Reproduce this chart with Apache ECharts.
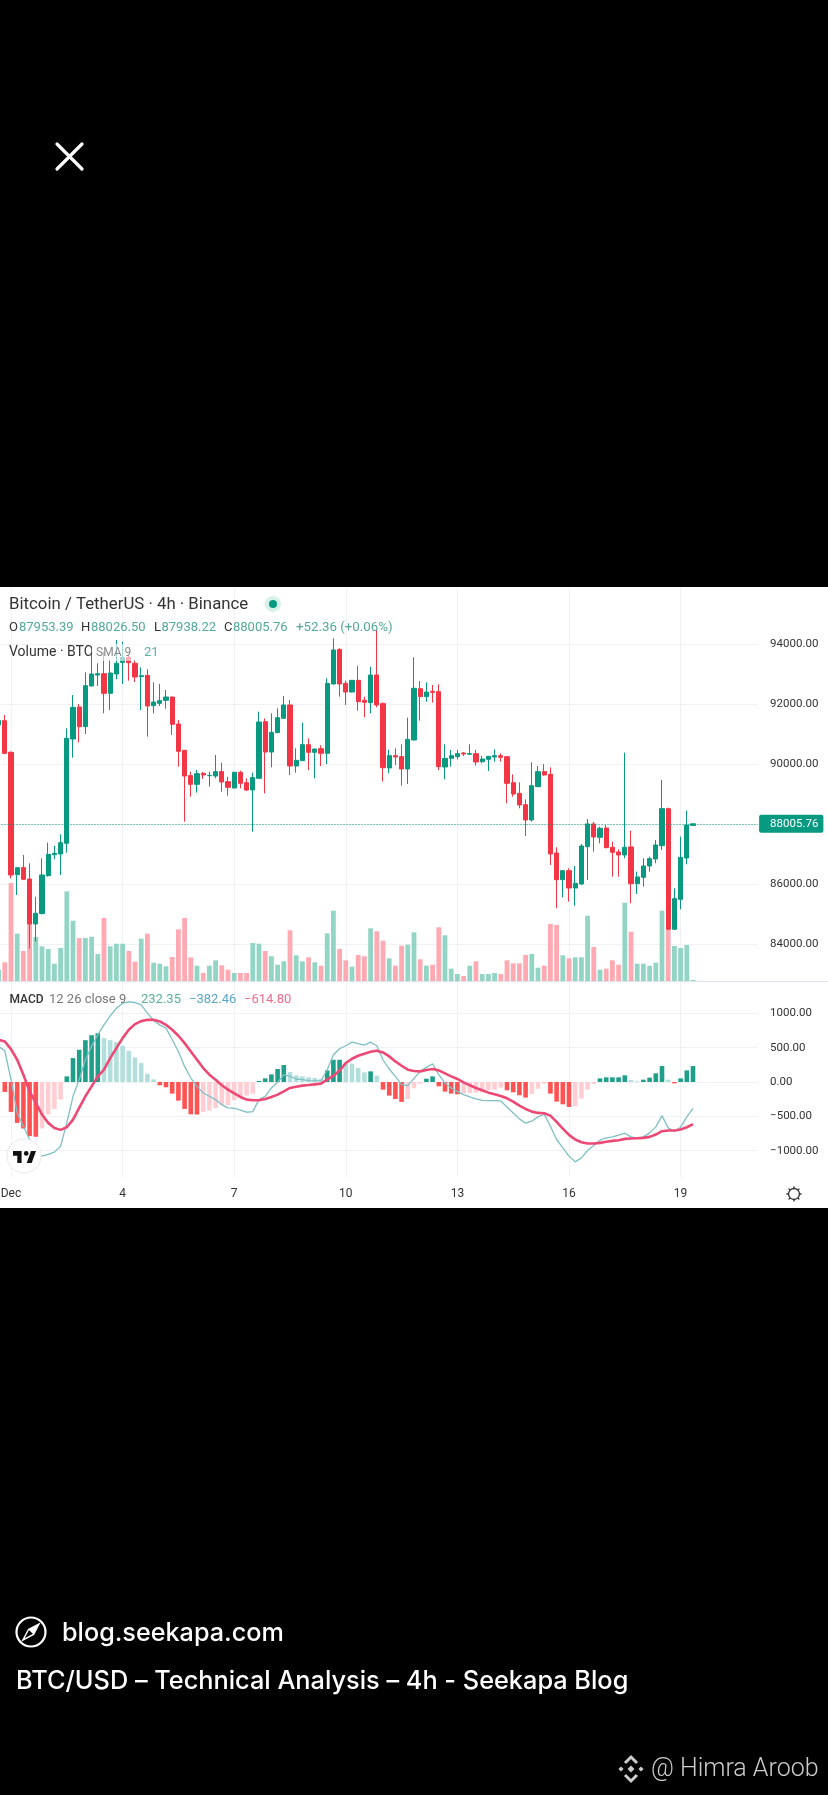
<!DOCTYPE html>
<html><head><meta charset="utf-8">
<style>html,body{margin:0;padding:0;background:#000;overflow:hidden}#c{width:828px;height:1795px}</style>
<script src="https://cdn.jsdelivr.net/npm/echarts@6/dist/echarts.min.js"></script>
</head><body><div id="c"></div>
<script>
// bars run every 4h; first bar is Nov 30 16:00
const opens=[91300,91445,90389,86312,86545,86167,84668,85012,86278,86978,87000,87356,90833,91900,91245,92600,92967,93011,92356,93000,93389,93556,93356,92911,92955,91945,92022,92122,92233,91333,90456,89611,89322,89689,89611,89600,89745,89411,89200,89722,89378,89134,89522,91411,90400,91045,91522,91967,89933,90111,90645,90389,90511,90356,92667,93822,92689,92400,92789,92122,92045,92967,92011,89867,90278,90245,89834,90800,92511,92245,92422,92411,89900,90189,90245,90367,90323,90345,90078,90156,90234,90278,90245,89378,89023,88645,88134,89245,89745,89656,87034,86145,86445,85867,86001,87245,88001,87556,87867,87223,87067,86967,87234,86012,86223,86601,86834,87279,88512,84490,85490,86867,87953.39];
const closes=[91450,90356,86300,86545,86156,84668,85023,86300,86989,87023,87378,90856,91889,91245,92611,93000,93011,92356,93033,93356,93556,93378,92900,92944,91933,92067,92111,92233,91322,90422,89600,89322,89678,89634,89622,89745,89400,89222,89722,89356,89134,89545,91400,90400,91056,91545,91967,89933,90122,90645,90389,90500,90356,92689,93800,92667,92400,92789,92078,92056,92967,91967,89878,90278,90234,89834,90822,92522,92245,92400,92389,89911,90189,90278,90345,90334,90345,90067,90167,90256,90278,90223,89356,89000,88634,88134,89278,89745,89634,87001,86145,86445,85867,86023,87267,88001,87567,87856,87212,87056,86967,87223,86012,86234,86601,86845,87301,88512,84490,85512,86890,87967,88005.76];
const lows=[91200,90330,86190,85634,86130,83856,84079,84990,86245,86823,86300,87045,90211,90722,91000,92590,92600,91689,91800,92822,92667,92778,92733,91800,90911,91689,91933,91844,90967,89911,88078,88911,89045,89500,89245,89522,89078,88945,89189,89189,89100,87745,89511,89022,89889,91030,91510,89634,89711,90100,89800,89522,89934,90000,92650,92245,91967,92390,91778,91556,91689,91889,89411,89689,89967,89278,89334,90790,91445,92078,92045,89800,89489,89911,90156,90267,90312,89945,90022,89767,90078,90078,88689,88911,88523,87600,88078,89230,89611,86634,85190,85556,85412,85279,85968,86134,87078,87356,87190,86245,86245,86856,85357,85668,85912,86412,86690,87134,84468,84470,85157,86656,87938.22];
const highs=[91500,91633,90420,86560,86967,86690,85578,86856,87378,87267,87656,91189,92300,92000,93056,93856,93356,93744,93467,94133,94078,93633,93467,93222,93155,92722,92667,92467,92250,91467,90467,89745,89800,89734,89745,90300,90045,89578,89745,89778,89522,89711,91745,91522,91689,91856,92267,92133,90522,91378,90856,90510,90622,92856,94189,93856,92778,92800,93278,92245,93244,94467,92056,90467,90522,90656,91545,93556,92767,92722,92633,92656,90656,90467,90467,90400,90656,90467,90267,90267,90489,90356,90267,89656,89389,88823,90056,89934,90000,89889,87223,86467,86523,86601,87334,88167,88067,87912,87967,87412,87156,90378,87778,86412,86856,86912,87467,89467,88545,85856,87578,88445,88026.50];
const volumes=[1130,1870,9800,4730,3000,5730,4400,3470,3200,1730,3300,8970,6030,4300,4300,4430,2700,6300,3470,3730,3730,3000,1930,4230,4730,1830,1730,1470,2400,5170,6300,2370,1530,800,1530,2070,1570,1130,800,800,800,3800,3730,3000,2470,1630,1970,5070,2570,1970,2370,1870,1530,4770,7030,3200,2070,1430,2600,2470,5270,4970,4030,2270,1530,3530,3630,4870,2170,1530,1630,5370,4570,1230,700,500,1530,1970,700,700,800,700,2070,1770,1770,2600,2700,1330,1530,5700,5600,2570,2270,2370,2370,6530,3400,1130,1230,2070,1630,7830,4930,1730,1730,1530,1830,7030,5130,3500,3300,3600,100];
const histogram=[0,-145,-435,-595,-677,-788,-797,-677,-474,-392,-256,82,348,469,609,681,710,638,609,580,527,454,358,276,121,39,-48,-77,-169,-271,-392,-470,-474,-435,-416,-382,-343,-339,-266,-232,-198,-169,15,53,111,189,247,145,97,82,68,58,44,169,324,324,290,266,203,140,155,92,-111,-198,-247,-290,-247,-92,-24,48,82,-63,-140,-169,-179,-165,-160,-155,-150,-121,-111,-82,-121,-150,-193,-227,-174,-97,-24,-169,-285,-324,-363,-353,-242,-111,-29,53,68,68,68,97,29,10,34,63,126,232,34,-19,53,169,232.35];
const macdLine=[518,455,34,-450,-644,-837,-1031,-1079,-1055,-1021,-934,-595,-208,34,324,518,687,832,963,1074,1147,1166,1157,1123,1002,895,832,784,615,445,227,58,-63,-160,-208,-257,-329,-377,-382,-411,-440,-431,-257,-208,-87,-5,106,82,44,34,19,15,19,179,397,484,528,581,557,537,581,528,324,189,82,-39,-53,53,155,213,266,106,-15,-87,-136,-184,-218,-247,-266,-271,-271,-276,-363,-450,-537,-600,-571,-508,-469,-644,-837,-958,-1079,-1162,-1104,-997,-924,-847,-813,-799,-774,-745,-799,-818,-799,-741,-653,-489,-668,-721,-658,-508,-382.46];
const signalLine=[615,590,479,324,106,-136,-305,-474,-595,-668,-697,-658,-547,-377,-208,-63,82,179,348,494,639,760,842,886,905,905,881,832,760,673,566,445,324,203,106,34,-48,-111,-165,-218,-257,-266,-266,-247,-218,-184,-136,-87,-68,-53,-44,-34,-24,34,92,169,276,339,382,411,440,455,431,373,300,237,179,160,155,174,189,169,126,82,44,-5,-48,-87,-121,-155,-179,-203,-237,-286,-344,-392,-431,-450,-455,-489,-581,-678,-770,-837,-876,-895,-895,-886,-871,-857,-847,-828,-823,-818,-813,-799,-765,-716,-707,-707,-692,-658,-614.8];
const lastPrice=88005.76;
const priceTicks=[84000,86000,88000,90000,92000,94000];
const macdTicks=[-1000,-500,0,500,1000];
const tickLabels={'Dec 1 00:00':'Dec','Dec 4 00:00':'4','Dec 7 00:00':'7','Dec 10 00:00':'10','Dec 13 00:00':'13','Dec 16 00:00':'16','Dec 19 00:00':'19'};
const categories=[];
for(let i=-2;i<121;i++){const d=Math.floor(i/6),h=(i-d*6)*4;categories.push((d<0?'Nov 30 ':'Dec '+(d+1)+' ')+String(h).padStart(2,'0')+':00');}

const UP='#089981',DOWN='#F23645',VUP='#93D5C5',VDOWN='#FFA9B3';
const candleData=opens.map((o,i)=>[o,closes[i],lows[i],highs[i]]);
const isTick=(idx,val)=>val in tickLabels;
function histColor(i){const v=histogram[i],p=i?histogram[i-1]:0;
  if(v>=0)return v>=p?'#1F9E89':'#B2DFDB';return v<p?'#FF5252':'#FFCDD2';}
const L=-4.5,W=762.6;
const xBase={type:'category',data:categories,axisLine:{show:false},axisTick:{show:false},
  splitLine:{show:true,alignWithLabel:true,interval:isTick,lineStyle:{color:'#EFF1F5',width:1}}};
const yLabel={color:'#333',fontSize:11.5,fontFamily:'Roboto',margin:12,padding:[2,0,0,0]};
const fmt=v=>(v<0?'\u2212':'')+Math.abs(v).toFixed(2);
const txt=(x,y,text,fill,size,weight,fam)=>({type:'text',z:100,x,y,style:{text,fill,font:(weight||400)+' '+(size||13)+'px '+(fam||'Roboto'),textVerticalAlign:'middle'}});
const wk=(x1,y1,x2,y2,w,c)=>({type:'line',z:100,shape:{x1,y1,x2,y2},style:{stroke:c,lineWidth:w,lineCap:'round'}});
const dia=(cx,cy,r,c)=>({type:'polygon',z:100,shape:{points:[[cx,cy-r],[cx+r,cy],[cx,cy+r],[cx-r,cy]]},style:{fill:c}});

const chart=echarts.init(document.getElementById('c'),null,{width:828,height:1795});
chart.setOption({
  animation:false,backgroundColor:'#000',
  grid:[
    {left:L,width:W,top:587,height:394,outerBoundsMode:'none'},
    {left:L,width:W,top:881,height:100,outerBoundsMode:'none'},
    {left:L,width:W,top:981,height:196,outerBoundsMode:'none'}
  ],
  xAxis:[
    Object.assign({gridIndex:0,axisLabel:{show:false}},xBase),
    {type:'category',gridIndex:1,data:categories,show:false},
    Object.assign({gridIndex:2,axisLabel:{show:true,interval:isTick,formatter:v=>tickLabels[v]||'',color:'#333',fontSize:12,fontFamily:'Roboto',margin:11,hideOverlap:false}},xBase)
  ],
  yAxis:[
    {type:'value',gridIndex:0,position:'right',min:82766.67,max:95900,axisLine:{show:false},
      axisTick:{show:false,customValues:priceTicks},
      axisLabel:Object.assign({customValues:priceTicks,formatter:fmt},yLabel),
      splitLine:{show:true,lineStyle:{color:'#EFF1F5'}}},
    {type:'value',gridIndex:1,min:0,max:10000,show:false,splitLine:{show:false}},
    {type:'value',gridIndex:2,position:'right',min:-1382.8,max:1470.2,axisLine:{show:false},
      axisTick:{show:false,customValues:macdTicks},
      axisLabel:Object.assign({customValues:macdTicks,formatter:fmt},yLabel),
      splitLine:{show:true,lineStyle:{color:'#EFF1F5'}}}
  ],
  series:[
    {type:'bar',name:'Volume',xAxisIndex:1,yAxisIndex:1,barWidth:4.8,z:1,
      data:volumes.map((v,i)=>({value:v,itemStyle:{color:closes[i]>=opens[i]?VUP:VDOWN}}))},
    {type:'candlestick',name:'BTCUSDT',xAxisIndex:0,yAxisIndex:0,barWidth:4.6,z:3,data:candleData,
      itemStyle:{color:UP,color0:DOWN,borderColor:UP,borderColor0:DOWN,borderWidth:1},
      markLine:{silent:true,symbol:'none',animation:false,
        lineStyle:{type:[1,2],color:'#089981',width:1},
        label:{position:'end',distance:1,formatter:()=>lastPrice.toFixed(2),color:'#fff',backgroundColor:'#089981',fontFamily:'Roboto',fontSize:11.5,padding:[3,5,3,11],borderRadius:2},
        data:[{yAxis:lastPrice}]}},
    {type:'bar',name:'Histogram',xAxisIndex:2,yAxisIndex:2,barWidth:4.6,z:1,
      data:histogram.map((v,i)=>({value:v,itemStyle:{color:histColor(i)}}))},
    {type:'line',name:'MACD',xAxisIndex:2,yAxisIndex:2,data:macdLine,showSymbol:false,z:2,lineStyle:{color:'#7FBFC6',width:1.3}},
    {type:'line',name:'Signal',xAxisIndex:2,yAxisIndex:2,data:signalLine,showSymbol:false,z:3,lineStyle:{color:'#EC4A75',width:2.6}}
  ],
  graphic:[
    {type:'rect',z:-100,shape:{x:0,y:587,width:828,height:621},style:{fill:'#fff'}},
    {type:'line',z:50,shape:{x1:0,y1:981.5,x2:828,y2:981.5},style:{stroke:'#E0E3EB',lineWidth:1}},
    wk(57,144,82,169,3.2,'#fff'),wk(82,144,57,169,3.2,'#fff'),
    {type:'rect',z:90,shape:{x:93,y:644,width:66,height:17},style:{fill:'rgba(255,255,255,0.6)'}},
    txt(9,605,'Bitcoin / TetherUS \u00B7 4h \u00B7 Binance','#333',16.8),
    {type:'circle',z:100,shape:{cx:273,cy:604,r:8},style:{fill:'#D7F0EA'}},
    {type:'circle',z:100,shape:{cx:273,cy:604,r:4},style:{fill:'#089981'}},
    txt(9,628,'O','#333'),txt(19,628,'87953.39','#53A89B'),
    txt(81,628,'H','#333'),txt(91,628,'88026.50','#53A89B'),
    txt(154,628,'L','#333'),txt(161.5,628,'87938.22','#53A89B'),
    txt(224,628,'C','#333'),txt(233,628,'88005.76','#53A89B'),
    txt(296,628,'+52.36 (+0.06%)','#53A89B',13.3),
    txt(9,652.5,'Volume \u00B7 BTC','#333',14),txt(96,652.5,'SMA 9','#888',12),txt(144,652.5,'21','#5DB0A5'),
    txt(9.5,1000,'MACD','#333',12,500),txt(49,1000,'12 26 close 9','#777'),
    txt(141,1000,'232.35','#5BAFA0'),txt(189,1000,'\u2212382.46','#5AA6C8'),txt(244,1000,'\u2212614.80','#EE6C8A'),
    {type:'circle',z:60,shape:{cx:24,cy:1156,r:17},style:{fill:'#fff',stroke:'#E8E8E8',lineWidth:1}},
    {type:'polygon',z:61,shape:{points:[[13,1151],[21.6,1151],[21.6,1163],[17.3,1163],[17.3,1155.8],[13,1155.8]]},style:{fill:'#111'}},
    {type:'polygon',z:61,shape:{points:[[31,1151],[36,1151],[31.7,1163],[26.7,1163]]},style:{fill:'#111'}},
    {type:'circle',z:61,shape:{cx:26.2,cy:1153.4,r:2.3},style:{fill:'#111'}},
    {type:'circle',z:100,shape:{cx:794,cy:1194,r:5.5},style:{fill:'none',stroke:'#333',lineWidth:1.3}},
    wk(794,1187,794,1188.5,1.4,'#333'),wk(794,1199.5,794,1201,1.4,'#333'),wk(787,1194,788.5,1194,1.4,'#333'),wk(799.5,1194,801,1194,1.4,'#333'),
    wk(789,1189,790,1190,1.2,'#333'),wk(799,1189,798,1190,1.2,'#333'),wk(789,1199,790,1198,1.2,'#333'),wk(799,1199,798,1198,1.2,'#333'),
    {type:'circle',z:100,shape:{cx:31,cy:1632,r:14.5},style:{fill:'none',stroke:'#fff',lineWidth:2.2}},
    {type:'polygon',z:100,shape:{points:[[39,1624],[33.5,1634.5],[23,1640],[28.5,1629.5]]},style:{fill:'none',stroke:'#fff',lineWidth:1.5}},
    {type:'polygon',z:100,shape:{points:[[39,1624],[33.5,1634.5],[28.5,1629.5]]},style:{fill:'#fff'}},
    txt(62,1633,'blog.seekapa.com','#fff',25.2,500,'Inter'),
    txt(16,1681,'BTC/USD \u2013 Technical Analysis \u2013 4h - Seekapa Blog','#fff',25.3,500,'Inter'),
    txt(651,1770,'@ Himra Aroob','#ccc',25,300),
    dia(631,1769,3.5,'#ccc'),dia(621,1769,2.6,'#ccc'),dia(641,1769,2.6,'#ccc'),
    {type:'polyline',z:100,shape:{points:[[625,1763],[631,1757],[637,1763]]},style:{fill:'none',stroke:'#ccc',lineWidth:3}},
    {type:'polyline',z:100,shape:{points:[[625,1775],[631,1781],[637,1775]]},style:{fill:'none',stroke:'#ccc',lineWidth:3}}
  ]
});
</script></body></html>
